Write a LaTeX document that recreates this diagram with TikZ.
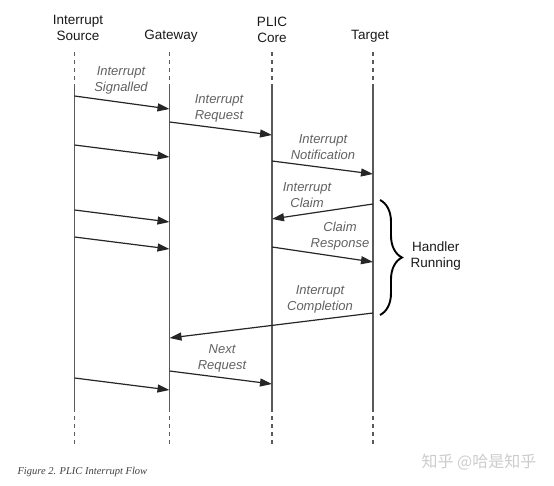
\documentclass[tikz,border=0pt]{standalone}
\usepackage{fontspec}
\setmainfont{Liberation Serif}
\setsansfont{Liberation Sans}
\newfontfamily\cjkfont{Noto Sans CJK SC}
\usetikzlibrary{arrows.meta,calc,decorations.pathreplacing}

\begin{document}
\begin{tikzpicture}[x=1pt, y=-1pt,
  head/.style={font=\sffamily\fontsize{13.5}{16}\selectfont, text=black!90, align=center},
  lbl/.style={font=\sffamily\itshape\fontsize{13}{16}\selectfont, text=black!62, align=center},
  life/.style={line width=1.2pt, draw=black!65},
  msg/.style={line width=1.2pt, draw=black!85, -{Triangle[length=12pt,width=8pt]}}]
\useasboundingbox (0,0) rectangle (554,486);
\node[head] (src_h) at (78,28) {Interrupt\\Source};
\node[head] (gw_h) at (171,36) {Gateway};
\node[head] (plic_h) at (272,30) {PLIC\\Core};
\node[head] (tgt_h) at (370,36) {Target};
\foreach \l/\x in {src/74.5, gw/169.5, plic/272, tgt/373} {
  \coordinate (\l_a) at (\x,52);
  \coordinate (\l) at (\x,87);
  \coordinate (\l_c) at (\x,408);
  \coordinate (\l_d) at (\x,447);
  \draw[life, dash pattern=on 4pt off 4pt] (\l_a) -- (\l);
  \draw[life] (\l) -- (\l_c);
  \draw[life, dash pattern=on 4pt off 4pt] (\l_c) -- (\l_d);
}
\foreach \n/\a/\ya/\b/\yb in {1/src/96/gw/109, 2/gw/122/plic/135, 3/src/145/gw/157,
    4/plic/161/tgt/174, 5/tgt/204/plic/219, 6/src/210/gw/222, 7/src/237/gw/249,
    8/plic/247/tgt/262, 9/tgt/313/gw/338, 10/gw/371/plic/384, 11/src/378/gw/390} {
  \coordinate (m\n_s) at ($(\a)+(0,\ya-87)$);
  \coordinate (m\n_e) at ($(\b)+(0,\yb-87)$);
  \draw[msg] (m\n_s) -- (m\n_e);
}
\node[lbl] (sig) at (121,80) {Interrupt\\Signalled};
\node[lbl] (req) at (219,108) {Interrupt\\Request};
\node[lbl] (notif) at (323,147) {Interrupt\\Notification};
\node[lbl] (claim) at (307,195) {Interrupt\\Claim};
\node[lbl] (resp) at (340,236) {Claim\\Response};
\node[lbl] (compl) at (320,299) {Interrupt\\Completion};
\node[lbl] (next) at (222,358) {Next\\Request};
\draw[line width=1.9pt, decorate, decoration={brace, amplitude=22pt}] (380,200) coordinate (br_a) -- (380,315) coordinate (br_b);
\node[head, anchor=west] (run) at (407,256) {Handler\\Running};
\node[font=\itshape\fontsize{10.5}{12}\selectfont, text=black!75, anchor=west] (cap) at (14,472) {Figure 2. PLIC Interrupt Flow};
\node[font=\cjkfont\fontsize{16}{18}\selectfont, text=black!20] (wm) at (479,462) {知乎 @哈是知乎};
\end{tikzpicture}
\end{document}
